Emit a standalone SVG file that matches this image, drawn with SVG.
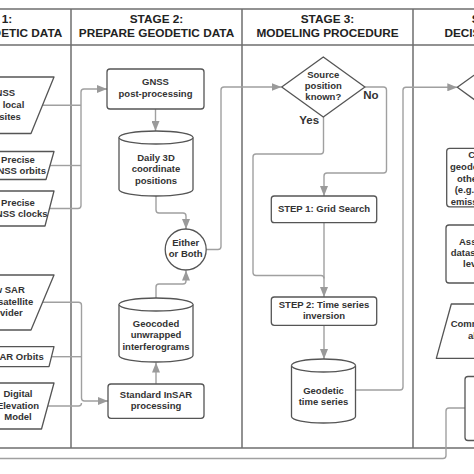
<svg xmlns="http://www.w3.org/2000/svg" width="474" height="474" viewBox="0 0 474 474">
<defs>
<marker id="ah" markerUnits="userSpaceOnUse" markerWidth="10" markerHeight="8" refX="10" refY="4" orient="auto"><path d="M0,0 L10,4 L0,8 z" fill="#9a9a9a"/></marker>
<style>
.frame{fill:none;stroke:#6e6e6e;stroke-width:1.5}
.hd{font-family:"Liberation Sans",Arial,sans-serif;font-weight:bold;font-size:11.8px;fill:#222;text-anchor:middle}
.nd{fill:#fff;stroke:#555;stroke-width:1.3;stroke-linejoin:round}
.t{font-family:"Liberation Sans",Arial,sans-serif;font-weight:bold;font-size:9.5px;fill:#333;text-anchor:middle}
.ts{font-family:"Liberation Sans",Arial,sans-serif;font-weight:bold;font-size:9.5px;fill:#333;text-anchor:start}
.lbl{font-family:"Liberation Sans",Arial,sans-serif;font-weight:bold;font-size:11.5px;fill:#333}
.c{fill:none;stroke:#a0a0a0;stroke-width:1.4}
</style>
</defs>
<rect width="474" height="474" fill="#fff"/>
<g id="frame">
<line class="frame" x1="-5" y1="9" x2="480" y2="9"/>
<line class="frame" x1="-5" y1="45" x2="480" y2="45"/>
<line class="frame" x1="-5" y1="448" x2="480" y2="448"/>
<line class="frame" x1="71" y1="9" x2="71" y2="448"/>
<line class="frame" x1="242" y1="9" x2="242" y2="448"/>
<line class="frame" x1="413" y1="9" x2="413" y2="448"/>
<text class="hd" x="-14.5" y="23">STAGE 1:</text>
<text class="hd" x="-14.5" y="37">ACQUIRE GEODETIC DATA</text>
<text class="hd" x="156.5" y="23">STAGE 2:</text>
<text class="hd" x="156.5" y="37">PREPARE GEODETIC DATA</text>
<text class="hd" x="327.5" y="23">STAGE 3:</text>
<text class="hd" x="327.5" y="37">MODELING PROCEDURE</text>
<text class="hd" x="498.5" y="23">STAGE 4:</text>
<text class="hd" x="498.5" y="37">DECISION MAKING</text>
</g>
<g id="connectors">
<path class="c" d="M42.5 105.3 H81"/>
<path class="c" d="M50 165.5 H81"/>
<path class="c" d="M49.5 208.5 H78 Q81 208.5 81 205.5 V92 Q81 89 84 89 H107" marker-end="url(#ah)"/>
<path class="c" d="M42.5 302.3 H78.5 Q81.5 302.3 81.5 305.3 V398 Q81.5 401 84.5 401 H108" marker-end="url(#ah)"/>
<path class="c" d="M51.5 356.7 H81.5"/>
<path class="c" d="M48 406 H78.5 Q81.5 406 81.5 403"/>
<path class="c" d="M155.5 109 V131" marker-end="url(#ah)"/>
<path class="c" d="M156 196 V210 Q156 213 159 213 H183 Q186 213 186 216 V229" marker-end="url(#ah)"/>
<path class="c" d="M156 298 V287 Q156 284 159 284 H183 Q186 284 186 281 V270.5" marker-end="url(#ah)"/>
<path class="c" d="M156 384 V362.5" marker-end="url(#ah)"/>
<path class="c" d="M206 249.5 H218 Q221 249.5 221 246.5 V90 Q221 87 224 87 H281.5" marker-end="url(#ah)"/>
<path class="c" d="M365 87 H383.5 Q386.5 87 386.5 90 V170 Q386.5 173 383.5 173 H327 Q324 173 324 176 V196" marker-end="url(#ah)"/>
<path class="c" d="M323.5 117 V151 Q323.5 154 320.5 154 H256 Q253 154 253 157 V272.5 Q253 275.5 256 275.5 H321 Q324 275.5 324 278.5"/>
<path class="c" d="M324 222.7 V297" marker-end="url(#ah)"/>
<path class="c" d="M324 325.3 V359" marker-end="url(#ah)"/>
<path class="c" d="M355.5 390 H400 Q403 390 403 387 V90.3 Q403 87.3 406 87.3 H457.3" marker-end="url(#ah)"/>
<path class="c" d="M465 408 H449 Q446 408 446 411 V455.5 Q446 458.5 443 458.5 H-5"/>
</g>
<g id="gnss-sites">
<polygon class="nd" points="-80,77 54,77 31,133.5 -103,133.5"/>
<text class="t" x="-9.5" y="96.4">Raw GNSS</text>
<text class="t" x="-9.5" y="108.2">data from local</text>
<text class="t" x="-9.5" y="120">network sites</text>
</g>
<g id="gnss-orbits">
<polygon class="nd" points="-40,151.5 54,151.5 46,179.5 -48,179.5"/>
<text class="t" x="18" y="162.7">Precise</text>
<text class="t" x="18" y="174.4">GNSS orbits</text>
</g>
<g id="gnss-clocks">
<polygon class="nd" points="-40,191 54,191 45,226 -49,226"/>
<text class="t" x="18" y="205.7">Precise</text>
<text class="t" x="18" y="216.9">GNSS clocks</text>
</g>
<g id="sar-provider">
<polygon class="nd" points="-80,275 54,275 31,330 -103,330"/>
<text class="t" x="3.7" y="293.4">Raw SAR</text>
<text class="t" x="3.7" y="305">from satellite</text>
<text class="t" x="3.7" y="316.4">provider</text>
</g>
<g id="insar-orbits">
<polygon class="nd" points="-40,346.7 54,346.7 49,366.7 -45,366.7"/>
<text class="t" x="14.2" y="359.8">InSAR Orbits</text>
</g>
<g id="dem">
<polygon class="nd" points="-40,383 54,383 41.5,429 -52.5,429"/>
<text class="t" x="18" y="397.4">Digital</text>
<text class="t" x="18" y="409">Elevation</text>
<text class="t" x="18" y="420.4">Model</text>
</g>
<g id="gnss-post">
<rect class="nd" x="107" y="69" width="97" height="40" rx="3"/>
<text class="t" x="155.5" y="85">GNSS</text>
<text class="t" x="155.5" y="96.5">post-processing</text>
</g>
<g id="daily-3d">
<path class="nd" d="M119 137.5 A37 6.5 0 0 1 193 137.5 V189.5 A37 6.5 0 0 1 119 189.5 Z"/>
<path class="nd" fill="none" d="M119 137.5 A37 6.5 0 0 0 193 137.5"/>
<text class="t" x="156" y="160.5">Daily 3D</text>
<text class="t" x="156" y="172.2">coordinate</text>
<text class="t" x="156" y="183.5">positions</text>
</g>
<g id="either-or-both">
<circle class="nd" cx="185.7" cy="249.5" r="20.5"/>
<text class="t" x="185.7" y="245.6">Either</text>
<text class="t" x="185.7" y="257">or Both</text>
</g>
<g id="geocoded">
<path class="nd" d="M119 304.5 A37 6.5 0 0 1 193 304.5 V355.5 A37 6.5 0 0 1 119 355.5 Z"/>
<path class="nd" fill="none" d="M119 304.5 A37 6.5 0 0 0 193 304.5"/>
<text class="t" x="156" y="326.8">Geocoded</text>
<text class="t" x="156" y="338.2">unwrapped</text>
<text class="t" x="156" y="349.5">interferograms</text>
</g>
<g id="standard-insar">
<rect class="nd" x="108" y="384" width="96" height="34.3" rx="3"/>
<text class="t" x="156" y="397.5">Standard InSAR</text>
<text class="t" x="156" y="409.3">processing</text>
</g>
<g id="source-known">
<polygon class="nd" points="281.7,87 323.3,57 364.9,87 323.3,117"/>
<text class="t" x="323.3" y="77.7">Source</text>
<text class="t" x="323.3" y="89.2">position</text>
<text class="t" x="323.3" y="100.3">known?</text>
<text class="lbl" x="363.3" y="99.3">No</text>
<text class="lbl" x="299.3" y="124">Yes</text>
</g>
<g id="step1">
<rect class="nd" x="271.3" y="196" width="105.4" height="26.7" rx="3"/>
<text class="t" x="324" y="211.8">STEP 1: Grid Search</text>
</g>
<g id="step2">
<rect class="nd" x="271.3" y="297" width="105.4" height="28.3" rx="3"/>
<text class="t" x="324" y="307.8">STEP 2: Time series</text>
<text class="t" x="324" y="319.2">inversion</text>
</g>
<g id="geodetic-ts">
<path class="nd" d="M291.5 365.5 A32 6.5 0 0 1 355.5 365.5 V416.5 A32 6.5 0 0 1 291.5 416.5 Z"/>
<path class="nd" fill="none" d="M291.5 365.5 A32 6.5 0 0 0 355.5 365.5"/>
<text class="t" x="323.5" y="393.5">Geodetic</text>
<text class="t" x="323.5" y="404.8">time series</text>
</g>
<g id="stage4-decision">
<polygon class="nd" points="457.3,87.3 498.8,57.3 540.3,87.3 498.8,117.3"/>
</g>
<g id="compare">
<rect class="nd" x="446.7" y="148.3" width="100" height="58.5" rx="3"/>
<text class="ts" x="468.3" y="158.1">Compare</text>
<text class="ts" x="450" y="170">geodetic data with</text>
<text class="ts" x="457" y="181.7">other datasets</text>
<text class="ts" x="454.7" y="193.3">(e.g., methane</text>
<text class="ts" x="450.7" y="204.7">emissions)</text>
</g>
<g id="assess">
<rect class="nd" x="446" y="225" width="100" height="58" rx="3"/>
<text class="ts" x="459" y="244.7">Assess</text>
<text class="ts" x="450.7" y="255.8">datasets</text>
<text class="ts" x="463" y="267.4">levels</text>
</g>
<g id="communicate">
<polygon class="nd" points="451.3,304 560,304 545,358.3 436.3,358.3"/>
<text class="ts" x="450.7" y="327.4">Communicate</text>
<text class="ts" x="468" y="338.6">alerts</text>
</g>
<g id="final-step">
<rect class="nd" x="465" y="376.5" width="80" height="64" rx="3"/>
</g>
</svg>
